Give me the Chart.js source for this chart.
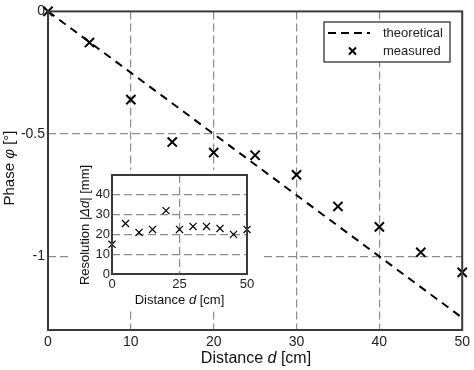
<!DOCTYPE html>
<html>
<head>
<meta charset="utf-8">
<script src="https://cdn.jsdelivr.net/npm/chart.js@4.4.1/dist/chart.umd.min.js"></script>
<style>
  html, body { margin: 0; padding: 0; background: #fff; }
  #wrap { position: relative; width: 474px; height: 370px; }
  #main { position: absolute; left: 0; top: 0; }
  #inset { position: absolute; left: 72px; top: 150px; }
</style>
</head>
<body>
<div id="wrap">
  <canvas id="main" width="474" height="370"></canvas>
  <canvas id="inset" width="188" height="160"></canvas>
</div>
<script>
// measured phase vs distance
const distance = [0, 5, 10, 15, 20, 25, 30, 35, 40, 45, 50];
const phaseMeasured = [0, -0.127, -0.36, -0.533, -0.576, -0.587, -0.667, -0.796, -0.879, -0.983, -1.065];
// theoretical line end points
const theoryDistance = [0, 50];
const theoryPhase = [0, -1.25];
// inset: resolution |Δd| in mm
const resolution = [15, 25.5, 21, 22.5, 32, 22.5, 24, 24, 23, 20, 22.5];

const xTicks = [0, 10, 20, 30, 40, 50];
const yTicks = [0, -0.5, -1];
const insetXTicks = [0, 25, 50];
const insetYTicks = [0, 10, 20, 30, 40];

const FONT = '"Liberation Sans", Arial, sans-serif';
const GRID = "#8c8c8c";
const FRAME = "#3a3a3a";

const pts = (xs, ys) => xs.map((x, i) => ({ x: x, y: ys[i] }));

// draws a label made of normal / italic pieces, centred on (cx, cy)
function richText(ctx, parts, cx, cy, size, rotate) {
    ctx.save();
    ctx.translate(cx, cy);
    if (rotate) ctx.rotate(-Math.PI / 2);
    ctx.fillStyle = "#111";
    ctx.textBaseline = "middle";
    ctx.textAlign = "left";
    let total = 0;
    parts.forEach(p => {
        ctx.font = (p[1] ? "italic " : "") + size + "px " + FONT;
        total += ctx.measureText(p[0]).width;
    });
    let x = -total / 2;
    parts.forEach(p => {
        ctx.font = (p[1] ? "italic " : "") + size + "px " + FONT;
        ctx.fillText(p[0], x, 0);
        x += ctx.measureText(p[0]).width;
    });
    ctx.restore();
}

const mainDecor = {
    id: "mainDecor",
    afterDatasetsDraw(chart) {
        const ctx = chart.ctx;
        const a = chart.chartArea;
        ctx.save();
        ctx.strokeStyle = FRAME;
        ctx.lineWidth = 2;
        ctx.strokeRect(a.left, a.top, a.right - a.left, a.bottom - a.top);

        // legend box
        ctx.fillStyle = "#fff";
        ctx.fillRect(324, 22, 126, 40);
        ctx.lineWidth = 1.2;
        ctx.strokeStyle = "#222";
        ctx.strokeRect(324, 22, 126, 40);
        ctx.strokeStyle = "#000";
        ctx.lineWidth = 2;
        ctx.setLineDash([8, 5]);
        ctx.beginPath();
        ctx.moveTo(328, 33);
        ctx.lineTo(370, 33);
        ctx.stroke();
        ctx.setLineDash([]);
        ctx.beginPath();
        ctx.moveTo(349, 47.5); ctx.lineTo(356, 54.5);
        ctx.moveTo(356, 47.5); ctx.lineTo(349, 54.5);
        ctx.stroke();
        ctx.fillStyle = "#222";
        ctx.font = "13px " + FONT;
        ctx.textBaseline = "middle";
        ctx.fillText("theoretical", 383, 33);
        ctx.fillText("measured", 383, 51);
        ctx.restore();

        richText(ctx, [["Distance ", false], ["d", true], [" [cm]", false]], 256, 359, 16, false);
        richText(ctx, [["Phase ", false], ["φ", true], [" [°]", false]], 10, 168, 15, true);
    }
};

new Chart(document.getElementById("main"), {
    type: "scatter",
    data: {
        datasets: [{
            label: "theoretical",
            type: "line",
            data: pts(theoryDistance, theoryPhase),
            borderColor: "#000",
            borderWidth: 2,
            borderDash: [8, 6],
            pointRadius: 0,
            fill: false
        }, {
            label: "measured",
            data: pts(distance, phaseMeasured),
            pointStyle: "crossRot",
            pointRadius: 6.5,
            borderColor: "#000",
            backgroundColor: "#000",
            pointBorderWidth: 2,
            clip: false
        }]
    },
    options: {
        responsive: false,
        animation: false,
        devicePixelRatio: 1,
        layout: { padding: { top: 6, right: 9, left: 0, bottom: 0 } },
        plugins: { legend: { display: false }, tooltip: { enabled: false } },
        scales: {
            x: {
                type: "linear",
                min: 0, max: 50,
                afterBuildTicks: s => { s.ticks = xTicks.map(v => ({ value: v })); },
                afterFit: s => { s.height = 40; },
                ticks: { color: "#222", font: { size: 14, family: FONT }, padding: 4, maxRotation: 0 },
                grid: {
                    color: c => (c.tick && (c.tick.value === 0 || c.tick.value === 50)) ? "transparent" : GRID,
                    lineWidth: 1.2,
                    drawTicks: false
                },
                border: { display: false, dash: [8, 4] }
            },
            y: {
                min: -1.3, max: 0,
                afterBuildTicks: s => { s.ticks = yTicks.map(v => ({ value: v })); },
                afterFit: s => { s.width = 48; },
                ticks: { color: "#222", font: { size: 14, family: FONT }, padding: 3, callback: v => String(v) },
                grid: {
                    color: c => (c.tick && c.tick.value === 0) ? "transparent" : GRID,
                    lineWidth: 1.2,
                    drawTicks: false
                },
                border: { display: false, dash: [8, 4] }
            }
        }
    },
    plugins: [mainDecor]
});

const insetDecor = {
    id: "insetDecor",
    beforeDraw(chart) {
        const ctx = chart.ctx;
        ctx.save();
        ctx.fillStyle = "#fff";
        ctx.fillRect(0, 20, chart.width, chart.height - 20);
        ctx.restore();
    },
    afterDatasetsDraw(chart) {
        const ctx = chart.ctx;
        const a = chart.chartArea;
        ctx.save();
        ctx.strokeStyle = FRAME;
        ctx.lineWidth = 2;
        ctx.strokeRect(a.left, a.top, a.right - a.left, a.bottom - a.top);
        ctx.restore();
        richText(ctx, [["Distance ", false], ["d", true], [" [cm]", false]], 107.5, 150, 13, false);
        richText(ctx, [["Resolution |", false], ["Δd", true], ["| [mm]", false]], 13, 75, 13, true);
    }
};

new Chart(document.getElementById("inset"), {
    type: "scatter",
    data: {
        datasets: [{
            label: "resolution",
            data: pts(distance, resolution),
            pointStyle: "crossRot",
            pointRadius: 5,
            borderColor: "#000",
            pointBorderWidth: 1.2,
            clip: false
        }]
    },
    options: {
        responsive: false,
        animation: false,
        devicePixelRatio: 1,
        layout: { padding: { top: 25, right: 13, left: 0, bottom: 0 } },
        plugins: { legend: { display: false }, tooltip: { enabled: false } },
        scales: {
            x: {
                type: "linear",
                min: 0, max: 50,
                afterBuildTicks: s => { s.ticks = insetXTicks.map(v => ({ value: v })); },
                afterFit: s => { s.height = 36; },
                ticks: { color: "#222", font: { size: 13, family: FONT }, padding: 3, maxRotation: 0 },
                grid: {
                    color: c => (c.tick && (c.tick.value === 0 || c.tick.value === 50)) ? "transparent" : GRID,
                    lineWidth: 1.2,
                    drawTicks: false
                },
                border: { display: false, dash: [8, 4] }
            },
            y: {
                min: 0, max: 50,
                afterBuildTicks: s => { s.ticks = insetYTicks.map(v => ({ value: v })); },
                afterFit: s => { s.width = 40; },
                ticks: { color: "#222", font: { size: 13, family: FONT }, padding: 2 },
                grid: {
                    color: c => (c.tick && c.tick.value === 0) ? "transparent" : GRID,
                    lineWidth: 1.2,
                    drawTicks: false
                },
                border: { display: false, dash: [8, 4] }
            }
        }
    },
    plugins: [insetDecor]
});
</script>
</body>
</html>
